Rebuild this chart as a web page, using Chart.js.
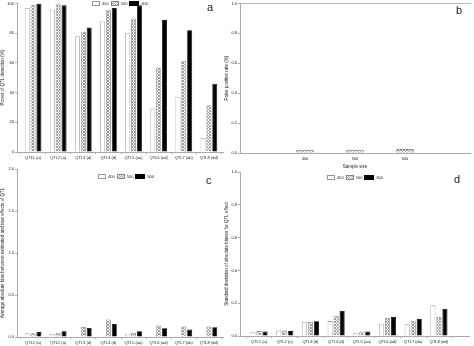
<!DOCTYPE html>
<html>
<head>
<meta charset="utf-8">
<script src="https://cdn.jsdelivr.net/npm/chart.js@4.4.1/dist/chart.umd.min.js"></script>
<style>
  html, body { margin: 0; padding: 0; background: #fff; }
  #wrap { position: relative; width: 474px; height: 346px; overflow: hidden; font-family: 'Liberation Sans', Arial, sans-serif; }
  canvas { position: absolute; }
  .letter { position: absolute; font-size: 11px; color: #222; line-height: 1; }
  .legend { position: absolute; display: flex; align-items: center; font-family: 'Liberation Sans Narrow', 'Liberation Sans', sans-serif; font-size: 4px; color: #222; line-height: 1; }
  .legend span.box { display: inline-block; width: 6px; height: 3px; border: 0.6px solid #999; background: #fff; margin-right: 2px; }
  .legend span.box.hatch { background: repeating-linear-gradient(45deg, #aaa 0 0.6px, #fff 0.6px 1.4px); border-color: #888; }
  .legend span.box.solid { background: #000; border-color: #000; width: 8px; }
  .legend span.txt { margin-right: 2px; }
</style>
</head>
<body>
<div id="wrap">
  <canvas id="chartA"></canvas>
  <canvas id="chartB"></canvas>
  <canvas id="chartC"></canvas>
  <canvas id="chartD"></canvas>
  <div class="letter" style="left:207px;top:2px;">a</div>
  <div class="letter" style="left:456px;top:5px;">b</div>
  <div class="letter" style="left:206px;top:175px;">c</div>
  <div class="letter" style="left:454px;top:174px;">d</div>
</div>
<script>
// QTL labels and sample sizes
const qtlLabels = ['QTL1 (a)', 'QTL2 (a)', 'QTL3 (d)', 'QTL4 (d)', 'QTL5 (aa)', 'QTL6 (ad)', 'QTL7 (da)', 'QTL8 (dd)'];
const sampleSizes = [400, 500, 600];

// a: power of QTL detection (%)
const power400 = [96.9, 95.8, 77.9, 87.8, 79.9, 29.2, 37.2, 9.5];
const power500 = [98.9, 100, 81.0, 95.8, 89.8, 56.9, 61.3, 31.4];
const power600 = [100, 98.7, 83.8, 96.9, 98.7, 88.9, 81.9, 46.0];

// b: false positive rate
const falsePositive = [0.02, 0.02, 0.025];

// c: average absolute bias (no 400 bar for some QTL)
const bias400 = [0.044, 0.036, null, null, 0.04, null, null, null];
const bias500 = [0.044, 0.052, 0.12, 0.208, 0.048, 0.136, 0.124, 0.124];
const bias600 = [0.06, 0.068, 0.108, 0.156, 0.068, 0.104, 0.088, 0.116];

// d: standard deviation of absolute biases
const sd400 = [0.024, 0.033, 0.085, 0.091, 0.018, 0.075, 0.071, 0.187];
const sd500 = [0.03, 0.033, 0.085, 0.122, 0.028, 0.11, 0.093, 0.116];
const sd600 = [0.028, 0.03, 0.09, 0.152, 0.028, 0.116, 0.104, 0.165];

Chart.defaults.font.family = "'Liberation Sans Narrow', 'Liberation Sans', Arial, sans-serif";
Chart.defaults.font.size = 4;
Chart.defaults.color = '#222';
Chart.defaults.animation = false;
Chart.defaults.plugins.legend.display = false;
Chart.defaults.plugins.tooltip.enabled = false;

// crosshatch fill for the 500 series
function makeHatch() {
    const c = document.createElement('canvas');
    c.width = 3; c.height = 3;
    const g = c.getContext('2d');
    g.fillStyle = '#fff';
    g.fillRect(0, 0, 3, 3);
    g.fillStyle = '#9a9a9a';
    g.fillRect(0, 0, 1, 1);
    g.fillRect(1, 1, 1, 1);
    g.fillRect(2, 2, 1, 1);
    g.fillRect(2, 0, 1, 1);
    g.fillRect(0, 2, 1, 1);
    return g.createPattern(c, 'repeat');
}
const hatch = makeHatch();

const styles = [
    { backgroundColor: '#fff', borderColor: '#a0a0a0' },
    { backgroundColor: hatch, borderColor: '#8a8a8a' },
    { backgroundColor: '#000', borderColor: '#000' }
];

function place(id, left, top, w, h) {
    const el = document.getElementById(id);
    el.style.left = left + 'px';
    el.style.top = top + 'px';
    el.width = w; el.height = h;
    el.style.width = w + 'px';
    el.style.height = h + 'px';
    return el.getContext('2d');
}

function toPoints(xs, ys) {
    return ys.map((v, i) => ({ x: xs[i], y: v }));
}

const axisGrid = { display: true, drawOnChartArea: false, tickLength: 2, color: '#aaa' };

function yAxis(max, step, title, width, decimals) {
    return {
        min: 0, max: max,
        border: { color: '#aaa', width: 1 },
        grid: axisGrid,
        ticks: { stepSize: step, padding: 1, callback: v => v.toFixed(decimals) },
        title: { display: true, text: title, padding: 0, font: { size: 4.5 } },
        afterFit: s => { s.width = width; }
    };
}

function qtlAxis(min, max, height) {
    const pos = qtlLabels.map((_, i) => i + 1);
    return {
        type: 'linear', min: min, max: max, offset: false,
        border: { color: '#aaa', width: 1 },
        grid: axisGrid,
        ticks: { autoSkip: false, maxRotation: 0, padding: 1, callback: v => qtlLabels[v - 1] },
        afterBuildTicks: s => { s.ticks = pos.map(v => ({ value: v })); },
        afterFit: s => { s.height = height; }
    };
}

function qtlDatasets(series) {
    const pos = qtlLabels.map((_, i) => i + 1);
    return series.map((vals, k) => Object.assign({
        label: String(sampleSizes[k]),
        data: toPoints(pos, vals),
        borderWidth: 0.8,
        categoryPercentage: 0.7,
        barPercentage: 0.85
    }, styles[k]));
}

// a
new Chart(place('chartA', 0, 0, 224, 165), {
    type: 'bar',
    data: { datasets: qtlDatasets([power400, power500, power600]) },
    options: {
        responsive: false,
        layout: { padding: { top: 2, right: 0, left: 0, bottom: 0 } },
        scales: {
            x: qtlAxis(0.36, 8.6, 13),
            y: yAxis(100, 20, 'Power of QTL detection (%)', 17, 0)
        }
    }
});

// b
new Chart(place('chartB', 224, 0, 250, 170), {
    type: 'bar',
    data: {
        datasets: [Object.assign({
            label: 'False positive',
            data: toPoints(sampleSizes, falsePositive),
            borderWidth: 0.8,
            barThickness: 17
        }, styles[1])]
    },
    options: {
        responsive: false,
        layout: { padding: { top: 3, right: 4, left: 0, bottom: 0 } },
        scales: {
            x: {
                type: 'linear', min: 270, max: 730, offset: false,
                border: { color: '#aaa', width: 1 },
                grid: { display: false, drawTicks: false },
                ticks: { autoSkip: false, maxRotation: 0, padding: 3, callback: v => String(v) },
                afterBuildTicks: s => { s.ticks = sampleSizes.map(v => ({ value: v })); },
                title: { display: true, text: 'Sample size', padding: 1, font: { size: 4.5 } },
                afterFit: s => { s.height = 17; }
            },
            xTop: {
                type: 'linear', position: 'top', min: 270, max: 730, offset: false,
                border: { color: '#bbb', width: 1 },
                grid: { display: false, drawTicks: false },
                ticks: { display: false },
                afterFit: s => { s.height = 0; }
            },
            y: yAxis(1, 0.2, 'False positive rate (%)', 16, 1)
        }
    }
});

// c
new Chart(place('chartC', 0, 160, 224, 186), {
    type: 'bar',
    data: { datasets: qtlDatasets([bias400, bias500, bias600]) },
    options: {
        responsive: false,
        layout: { padding: { top: 9, right: 0, left: 0, bottom: 0 } },
        scales: {
            x: qtlAxis(0.36, 8.6, 9),
            y: yAxis(2, 0.5, 'Average absolute bias between estimated and true effects of QTL', 17, 1)
        }
    }
});

// d
new Chart(place('chartD', 224, 160, 250, 186), {
    type: 'bar',
    data: { datasets: qtlDatasets([sd400, sd500, sd600]) },
    options: {
        responsive: false,
        layout: { padding: { top: 12, right: 5, left: 0, bottom: 0 } },
        scales: {
            x: qtlAxis(0.26, 9.17, 10),
            y: yAxis(1, 0.2, 'Standard deviation of absolute biases for QTL effect', 16, 1)
        }
    }
});

// legends for a, c, d
function legend(left, top) {
    const el = document.createElement('div');
    el.className = 'legend';
    el.style.left = left + 'px';
    el.style.top = top + 'px';
    const kinds = ['', 'hatch', 'solid'];
    sampleSizes.forEach((s, k) => {
        const b = document.createElement('span');
        b.className = 'box ' + kinds[k];
        const t = document.createElement('span');
        t.className = 'txt';
        t.textContent = s;
        el.appendChild(b);
        el.appendChild(t);
    });
    document.getElementById('wrap').appendChild(el);
}
legend(92, 1);
legend(98, 174);
legend(327, 175);
</script>
</body>
</html>
